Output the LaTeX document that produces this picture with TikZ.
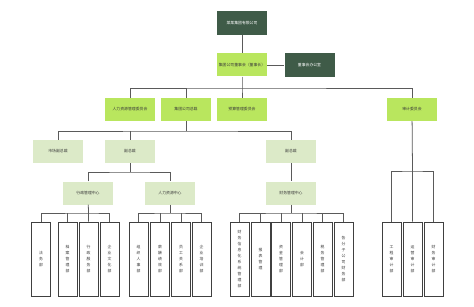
\documentclass[tikz,border=0pt]{standalone}
\usepackage{fontspec}
\usepackage{tikz}
\usetikzlibrary{positioning,calc}
\newfontfamily\cjk{Noto Sans CJK SC}
\definecolor{darkgreen}{HTML}{3F5B48}
\definecolor{limegreen}{HTML}{B9E65E}
\definecolor{palegreen}{HTML}{DCEAC8}
\definecolor{linegray}{HTML}{5A5A5A}
\definecolor{textgray}{HTML}{3A3A3A}
\tikzset{
  head/.style={fill=darkgreen,text=white,align=center,
    minimum width=25mm,minimum height=12mm,inner sep=1pt,font=\cjk\fontsize{5.5}{7}\selectfont},
  board/.style={fill=limegreen,text=textgray,align=center,
    minimum width=25mm,minimum height=11.5mm,inner sep=1pt,font=\cjk\fontsize{5.5}{7}\selectfont},
  unit/.style={fill=palegreen,text=textgray,align=center,
    minimum width=25mm,minimum height=11.5mm,inner sep=1pt,font=\cjk\fontsize{5.5}{7}\selectfont},
  leaf/.style={draw=black!75,fill=white,text=textgray,align=center,line width=1.2pt,
    minimum width=9.5mm,minimum height=37mm,inner sep=0.5pt,font=\cjk\fontsize{5.5}{8.6}\selectfont},
  link/.style={draw=linegray,line width=1.1pt}
}

\begin{document}
\begin{tikzpicture}[x=0.5mm,y=-0.5mm]
      \useasboundingbox[fill=white] (0,0) rectangle (474,307);
      % top levels
      \node[head] (grp) at (242,23) {某某集团有限公司};
      \node[board] (brd) at (242,65) {集团公司董事会（董事长）};
      \node[head] (off) at (309.5,65) {董事会办公室};
      \node[board] (hrm) at (130,109.5) {人力资源管理委员会};
      \node[board] (pre) at (186,109.5) {集团公司总裁};
      \node[board] (bud) at (242,109.5) {预算管理委员会};
      \node[board] (aud) at (412,109.5) {审计委员会};
      % vice presidents and centres
      \node[unit] (vpm) at (58,151.5) {市场副总裁};
      \node[unit] (vpa) at (130,151.5) {副总裁};
      \node[unit] (vpf) at (291,151.5) {副总裁};
      \node[unit] (adm) at (88,193) {行政管理中心};
      \node[unit] (hrc) at (170,193) {人力资源中心};
      \node[unit] (fin) at (291,193) {财务管理中心};
      % departments
      \node[leaf] (l1) at (41,259) {法\\务\\部};
      \node[leaf] (l2) at (67.5,259) {档\\案\\管\\理\\部};
      \node[leaf] (l3) at (88.5,259) {行\\政\\服\\务\\部};
      \node[leaf] (l4) at (109.5,259) {企\\业\\文\\化\\部};
      \node[leaf] (l5) at (138.5,259) {组\\织\\人\\事\\部};
      \node[leaf] (l6) at (160,259) {薪\\酬\\绩\\效\\部};
      \node[leaf] (l7) at (181,259) {员\\工\\关\\系\\部};
      \node[leaf] (l8) at (201.5,259) {企\\业\\培\\训\\部};
      \node[leaf] (l9) at (239.5,259) {财\\务\\信\\息\\化\\系\\统\\管\\理\\部};
      \node[leaf] (l10) at (260.5,259) {报\\表\\管\\理};
      \node[leaf] (l11) at (281,259) {资\\金\\管\\理\\部};
      \node[leaf] (l12) at (302,259) {会\\计\\部};
      \node[leaf] (l13) at (322.5,259) {税\\务\\管\\理\\部};
      \node[leaf] (l14) at (343.5,259) {各\\分\\子\\公\\司\\财\\务\\部};
      \node[leaf] (l15) at (391.5,259) {工\\程\\审\\计\\部};
      \node[leaf] (l16) at (412.5,259) {运\\营\\审\\计\\部};
      \node[leaf] (l17) at (433.5,259) {财\\务\\审\\计\\部};
      % bus points
      \coordinate (b1) at (242,88);
      \coordinate (b2) at (186,131);
      \coordinate (b3) at (130,172);
      \coordinate (b4) at (88.5,213);
      \coordinate (b5) at (170,213);
      \coordinate (b6) at (291,213);
      \coordinate (b7) at (412.5,171);
      % connectors
      \draw[link] (grp)--(brd);
      \draw[link] (brd)--(off);
      \draw[link] (brd)--(b1)--(bud);
      \draw[link] (hrm.north) |- (b1) -| (aud.north);
      \draw[link] (pre.north)--(pre.north |- b1);
      \draw[link] (pre)--(b2);
      \draw[link] (vpm.north) |- (b2) -| (vpf.north);
      \draw[link] (vpa.north)--(vpa.north |- b2);
      \draw[link] (vpa)--(b3);
      \draw[link] (adm.north) |- (b3) -| (hrc.north);
      \draw[link] (vpf)--(fin);
      \draw[link] (adm)--(b4)--(l3);
      \draw[link] (l1.north) |- (b4) -| (l4.north);
      \draw[link] (l2.north)--(l2.north |- b4);
      \draw[link] (hrc)--(b5);
      \draw[link] (l5.north) |- (b5) -| (l8.north);
      \foreach \n in {l6,l7} \draw[link] (\n.north)--(\n.north |- b5);
      \draw[link] (fin)--(b6);
      \draw[link] (l9.north) |- (b6) -| (l14.north);
      \foreach \n in {l10,l11,l12,l13} \draw[link] (\n.north)--(\n.north |- b6);
      \draw[link] (aud)--(b7)--(l16);
      \draw[link] (l15.north) |- (b7) -| (l17.north);
    \end{tikzpicture}
\end{document}
